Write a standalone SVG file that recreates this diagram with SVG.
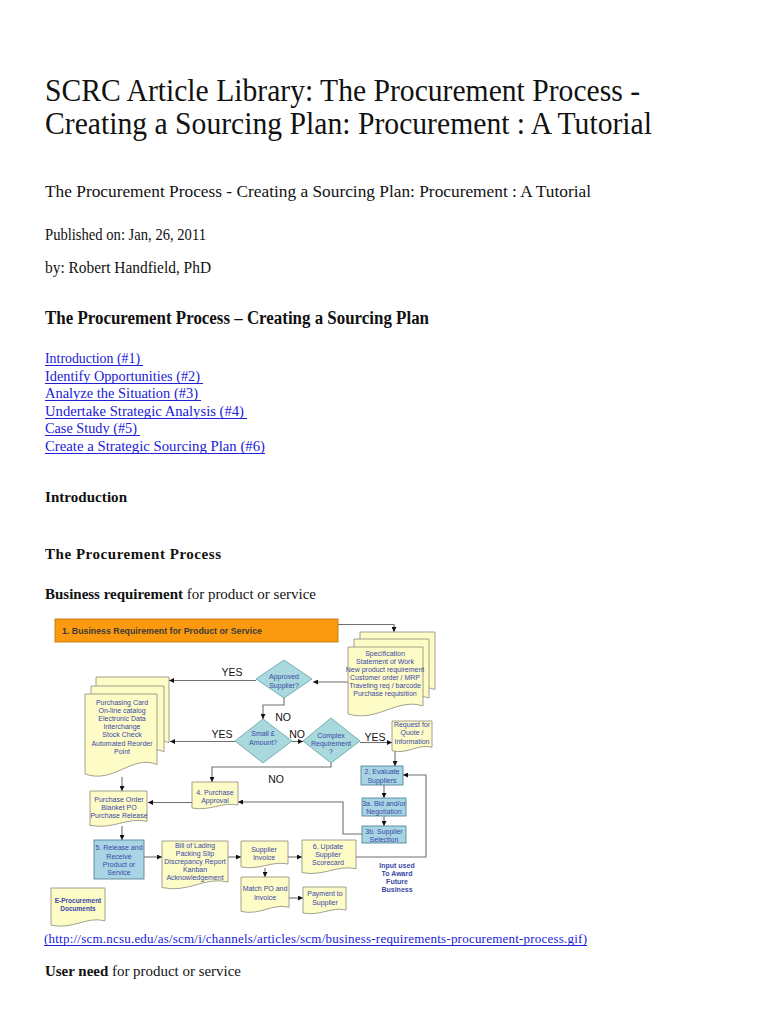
<svg xmlns="http://www.w3.org/2000/svg" width="768" height="1024" viewBox="0 0 768 1024">
<defs>
<marker id="ah" viewBox="0 0 10 10" refX="10" refY="5" markerWidth="5" markerHeight="5" orient="auto" markerUnits="userSpaceOnUse">
<path d="M0,0 L10,5 L0,10 Z" fill="#111"/>
</marker>
<style>
.pg{font-family:"Liberation Serif","Times New Roman",serif;fill:#111}
.lk{font-family:"Liberation Serif","Times New Roman",serif;fill:#2020d8;font-size:15.5px}
.ul{stroke:#2020d8;stroke-width:1}
.doc{fill:#fdfbc6;stroke:#8a8a7a;stroke-width:0.8}
.dia{fill:#a9d9dc;stroke:#5f9ea4;stroke-width:0.8}
.box{fill:#a8d4e3;stroke:#55889c;stroke-width:0.9}
.nt{font-family:"Liberation Sans",Arial,sans-serif;font-size:7px;fill:#3a48a8;text-anchor:middle}
.lb{font-family:"Liberation Sans",Arial,sans-serif;font-size:10.5px;fill:#111;text-anchor:middle}
.cn{fill:none;stroke:#6f6f6f;stroke-width:1.1}
</style>
</defs>
<rect width="768" height="1024" fill="#fff"/>

<!-- page text -->
<text class="pg" x="45" y="101" font-size="31" textLength="595" lengthAdjust="spacingAndGlyphs">SCRC Article Library: The Procurement Process -</text>
<text class="pg" x="45" y="134" font-size="31" textLength="607" lengthAdjust="spacingAndGlyphs">Creating a Sourcing Plan: Procurement : A Tutorial</text>
<text class="pg" x="45" y="197" font-size="17" fill="#333" textLength="546" lengthAdjust="spacingAndGlyphs">The Procurement Process - Creating a Sourcing Plan: Procurement : A Tutorial</text>
<text class="pg" x="45" y="240" font-size="16" textLength="161" lengthAdjust="spacingAndGlyphs">Published on: Jan, 26, 2011</text>
<text class="pg" x="45" y="273" font-size="16" textLength="166" lengthAdjust="spacingAndGlyphs">by: Robert Handfield, PhD</text>
<text class="pg" x="45" y="324" font-size="18.5" font-weight="bold" textLength="384" lengthAdjust="spacingAndGlyphs">The Procurement Process – Creating a Sourcing Plan</text>

<g id="links">
<text class="lk" x="45" y="363" textLength="95" lengthAdjust="spacingAndGlyphs">Introduction (#1)</text><line class="ul" x1="45" y1="365.5" x2="143" y2="365.5"/>
<text class="lk" x="45" y="381" textLength="155" lengthAdjust="spacingAndGlyphs">Identify Opportunities (#2)</text><line class="ul" x1="45" y1="383.5" x2="203" y2="383.5"/>
<text class="lk" x="45" y="398" textLength="153" lengthAdjust="spacingAndGlyphs">Analyze the Situation (#3)</text><line class="ul" x1="45" y1="400.5" x2="201" y2="400.5"/>
<text class="lk" x="45" y="416" textLength="199" lengthAdjust="spacingAndGlyphs">Undertake Strategic Analysis (#4)</text><line class="ul" x1="45" y1="418.5" x2="247" y2="418.5"/>
<text class="lk" x="45" y="433" textLength="92" lengthAdjust="spacingAndGlyphs">Case Study (#5)</text><line class="ul" x1="45" y1="435.5" x2="140" y2="435.5"/>
<text class="lk" x="45" y="451" textLength="220" lengthAdjust="spacingAndGlyphs">Create a Strategic Sourcing Plan (#6)</text><line class="ul" x1="45" y1="453.5" x2="265" y2="453.5"/>
</g>

<text class="pg" x="45" y="502" font-size="15" font-weight="bold" textLength="82">Introduction</text>
<text class="pg" x="45" y="559" font-size="15" font-weight="bold" textLength="176">The Procurement Process</text>
<text class="pg" x="45" y="599" font-size="15.5" textLength="271" lengthAdjust="spacingAndGlyphs"><tspan font-weight="bold">Business requirement</tspan> for product or service</text>

<text class="lk" x="44" y="943" style="font-size:13px" textLength="543">(http://scm.ncsu.edu/as/scm/i/channels/articles/scm/business-requirements-procurement-process.gif)</text>
<line class="ul" x1="44" y1="945.5" x2="587" y2="945.5"/>
<text class="pg" x="45" y="976" font-size="15.5" textLength="196" lengthAdjust="spacingAndGlyphs"><tspan font-weight="bold">User need</tspan> for product or service</text>

<!-- connectors -->
<g id="connectors">
<polyline class="cn" points="338,624.5 394,624.5 394,632" marker-end="url(#ah)"/>
<line class="cn" x1="348" y1="682" x2="313" y2="682" marker-end="url(#ah)"/>
<line class="cn" x1="256" y1="680.5" x2="169" y2="680.5" marker-end="url(#ah)"/>
<polyline class="cn" points="284,698 284,705 263,705 263,719" marker-end="url(#ah)"/>
<line class="cn" x1="235" y1="741.5" x2="170" y2="741.5" marker-end="url(#ah)"/>
<line class="cn" x1="292" y1="741.5" x2="303" y2="741.5" marker-end="url(#ah)"/>
<line class="cn" x1="360" y1="742.5" x2="392" y2="742.5" marker-end="url(#ah)"/>
<polyline class="cn" points="331,763 331,767 212,767 212,782" marker-end="url(#ah)"/>
<line class="cn" x1="395" y1="751" x2="395" y2="766" marker-end="url(#ah)"/>
<line class="cn" x1="384" y1="785" x2="384" y2="798" marker-end="url(#ah)"/>
<line class="cn" x1="384" y1="816" x2="384" y2="826" marker-end="url(#ah)"/>
<polyline class="cn" points="362,834 343,834 343,802 238,802" marker-end="url(#ah)"/>
<line class="cn" x1="192" y1="802.5" x2="148" y2="802.5" marker-end="url(#ah)"/>
<line class="cn" x1="122" y1="777" x2="122" y2="791" marker-end="url(#ah)"/>
<line class="cn" x1="122" y1="826" x2="122" y2="840" marker-end="url(#ah)"/>
<line class="cn" x1="144" y1="857" x2="162" y2="857" marker-end="url(#ah)"/>
<line class="cn" x1="228" y1="857" x2="241" y2="857" marker-end="url(#ah)"/>
<line class="cn" x1="288" y1="857" x2="302" y2="857" marker-end="url(#ah)"/>
<line class="cn" x1="265" y1="868" x2="265" y2="877" marker-end="url(#ah)"/>
<line class="cn" x1="289" y1="898" x2="303" y2="898" marker-end="url(#ah)"/>
<polyline class="cn" points="356,857 426,857 426,775 403,775" marker-end="url(#ah)"/>
<text class="lb" x="232" y="676">YES</text>
<text class="lb" x="283" y="721">NO</text>
<text class="lb" x="222" y="738">YES</text>
<text class="lb" x="297" y="738">NO</text>
<text class="lb" x="375" y="741">YES</text>
<text class="lb" x="276" y="783">NO</text>
</g>

<!-- nodes -->
<g id="n1">
<rect x="55" y="619" width="283" height="23" fill="#fb9a0e" stroke="#c0780c" stroke-width="0.9"/>
<text x="62" y="634" font-family="'Liberation Sans',Arial,sans-serif" font-size="8.8" font-weight="bold" fill="#3a3a3a">1. Business Requirement for Product or Service</text>
</g>

<g id="spec">
<path class="doc" d="M360,632 H435 V689.4 C408.8,681 390,705.5 360,697.1 Z"/>
<path class="doc" d="M354,639 H429 V698 C402.8,689.4 384,714.6 354,706 Z"/>
<path class="doc" d="M348,647 H423 V706 C396.8,697.4 378,722.6 348,714 Z"/>
<text class="nt" x="385" y="655.5">Specification</text>
<text class="nt" x="385" y="664">Statement of Work</text>
<text class="nt" x="385" y="672">New product requirement</text>
<text class="nt" x="385" y="680">Customer order / MRP</text>
<text class="nt" x="385" y="688">Traveling req / barcode</text>
<text class="nt" x="385" y="696">Purchase requisition</text>
</g>

<g id="approved">
<polygon class="dia" points="284,660 312,679 284,698 256,679"/>
<text class="nt" x="284" y="679">Approved</text>
<text class="nt" x="284" y="688">Supplier?</text>
</g>

<g id="ecat">
<path class="doc" d="M96,677 H169 V742.6 C143.5,733 125.2,761 96,751.4 Z"/>
<path class="doc" d="M91,686 H164 V751.6 C138.5,742 120.2,770 91,760.4 Z"/>
<path class="doc" d="M85,694 H157 V764.5 C131.8,754.2 113.8,784.3 85,774 Z"/>
<text class="nt" x="122" y="705">Purchasing Card</text>
<text class="nt" x="122" y="713">On-line catalog</text>
<text class="nt" x="122" y="721">Electronic Data</text>
<text class="nt" x="122" y="729">Interchange</text>
<text class="nt" x="122" y="737">Stock Check</text>
<text class="nt" x="122" y="746">Automated Reorder</text>
<text class="nt" x="122" y="754">Point</text>
</g>

<g id="small">
<polygon class="dia" points="263,719 292,741 263,763 235,741"/>
<text class="nt" x="263" y="736">Small £</text>
<text class="nt" x="263" y="745">Amount?</text>
</g>

<g id="complex">
<polygon class="dia" points="331,718 360,741 331,763 303,741"/>
<text class="nt" x="331" y="737.5">Complex</text>
<text class="nt" x="331" y="746">Requirement</text>
<text class="nt" x="331" y="754">?</text>
</g>

<g id="rfq">
<path class="doc" d="M392,721 H432 V747.2 C418,743.4 408,754.6 392,750.8 Z"/>
<text class="nt" x="412" y="726.5">Request for</text>
<text class="nt" x="412" y="735">Quote /</text>
<text class="nt" x="412" y="743.5">Information</text>
</g>

<g id="evaluate">
<rect class="box" x="361" y="766" width="42" height="19"/>
<text class="nt" x="382" y="774">2. Evaluate</text>
<text class="nt" x="382" y="782.5">Suppliers</text>
</g>

<g id="bid">
<rect class="box" x="362" y="798" width="44" height="18"/>
<text class="nt" x="384" y="806">3a. Bid and/or</text>
<text class="nt" x="384" y="814">Negotiation</text>
</g>

<g id="select">
<rect class="box" x="362" y="826" width="44" height="17"/>
<text class="nt" x="384" y="833.5">3b. Supplier</text>
<text class="nt" x="384" y="841.5">Selection</text>
</g>

<g id="approval">
<path class="doc" d="M192,782 H238 V805 C221.9,801.6 210.4,811.4 192,808 Z"/>
<text class="nt" x="215" y="794.5">4. Purchase</text>
<text class="nt" x="215" y="802.5">Approval</text>
</g>

<g id="po">
<path class="doc" d="M90,791 H147 V821.3 C127,816.9 112.8,829.9 90,825.4 Z"/>
<text class="nt" x="119" y="801.5">Purchase Order</text>
<text class="nt" x="119" y="809.5">Blanket PO</text>
<text class="nt" x="119" y="818">Purchase Release</text>
</g>

<g id="release">
<rect class="box" x="94" y="840" width="50" height="39"/>
<text class="nt" x="119" y="850">5. Release and</text>
<text class="nt" x="119" y="858.5">Receive</text>
<text class="nt" x="119" y="867">Product or</text>
<text class="nt" x="119" y="875">Service</text>
</g>

<g id="bill">
<path class="doc" d="M162,841 H228 V882 C204.9,876 188.4,893.5 162,887.5 Z"/>
<text class="nt" x="195" y="847.5">Bill of Lading</text>
<text class="nt" x="195" y="855.5">Packing Slip</text>
<text class="nt" x="195" y="864">Discrepancy Report</text>
<text class="nt" x="195" y="871.5">Kanban</text>
<text class="nt" x="195" y="879.5">Acknowledgement</text>
</g>

<g id="invoice">
<path class="doc" d="M241,841 H288 V864 C271.6,860.6 259.8,870.4 241,867 Z"/>
<text class="nt" x="264" y="851.5">Supplier</text>
<text class="nt" x="264" y="859.5">Invoice</text>
</g>

<g id="scorecard">
<path class="doc" d="M302,840 H356 V868.7 C337.1,864.5 323.6,876.8 302,872.6 Z"/>
<text class="nt" x="328" y="848.5">6. Update</text>
<text class="nt" x="328" y="856.5">Supplier</text>
<text class="nt" x="328" y="864.5">Scorecard</text>
</g>

<g id="match">
<path class="doc" d="M241,877 H289 V907.3 C272.2,902.9 260.2,915.9 241,911.4 Z"/>
<text class="nt" x="265" y="890.5">Match PO and</text>
<text class="nt" x="265" y="899.5">Invoice</text>
</g>

<g id="payment">
<path class="doc" d="M303,887 H346 V910 C331,906.6 320.2,916.4 303,913 Z"/>
<text class="nt" x="325" y="895.5">Payment to</text>
<text class="nt" x="325" y="904.5">Supplier</text>
</g>

<g id="input">
<text class="nt" x="397" y="867.5" font-weight="bold" fill="#2e2e96">Input used</text>
<text class="nt" x="397" y="875.5" font-weight="bold" fill="#2e2e96">To Award</text>
<text class="nt" x="397" y="884" font-weight="bold" fill="#2e2e96">Future</text>
<text class="nt" x="397" y="892" font-weight="bold" fill="#2e2e96">Business</text>
</g>

<g id="eproc">
<path class="doc" d="M51,888 H105 V920.8 C86.1,916 72.6,930 51,925.2 Z"/>
<text class="nt" x="78" y="902.5" font-weight="bold" fill="#252560" style="font-size:6.5px">E-Procurement</text>
<text class="nt" x="78" y="910.5" font-weight="bold" fill="#252560" style="font-size:6.5px">Documents</text>
</g>
</svg>
